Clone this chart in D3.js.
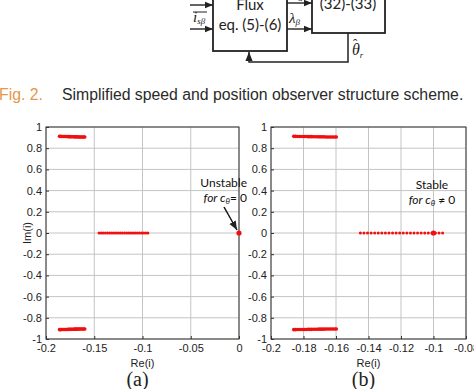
<!DOCTYPE html>
<html lang="en">
<head>
<meta charset="UTF-8">
<title>Observer pole maps</title>
<script src="https://d3js.org/d3.v7.min.js"></script>
<style>
  body { margin: 0; background: #fff; }
</style>
</head>
<body>
<svg width="474" height="389"></svg>
<script>
// Pole locations
const upperRe = [-0.1860, -0.1849, -0.1838, -0.1827, -0.1816, -0.1805, -0.1794, -0.1783, -0.1772,
                 -0.1761, -0.1750, -0.1739, -0.1728, -0.1717, -0.1706, -0.1695, -0.1684, -0.1673,
                 -0.1662, -0.1651, -0.1640, -0.1629, -0.1618, -0.1607, -0.1598];
const upperIm = [0.912, 0.912, 0.911, 0.911, 0.911, 0.910, 0.910, 0.910, 0.909, 0.909, 0.909, 0.908,
                 0.908, 0.908, 0.907, 0.907, 0.907, 0.907, 0.906, 0.906, 0.906, 0.906, 0.905, 0.905, 0.905];
const lowerIm = [-0.912, -0.912, -0.911, -0.911, -0.911, -0.910, -0.910, -0.910, -0.909, -0.909, -0.909, -0.908,
                 -0.908, -0.908, -0.907, -0.907, -0.907, -0.907, -0.906, -0.906, -0.906, -0.906, -0.905, -0.905, -0.905];
const realRe = [-0.1450, -0.1428, -0.1406, -0.1384, -0.1362, -0.1340, -0.1318, -0.1296, -0.1274, -0.1252,
                -0.1230, -0.1208, -0.1186, -0.1164, -0.1142, -0.1120, -0.1098, -0.1076, -0.1054, -0.1032,
                -0.1010, -0.0988, -0.0966, -0.0944];
const poleA = { re: 0, im: 0 };      // unstable for c_theta = 0
const poleB = { re: -0.1, im: 0 };   // stable for c_theta != 0

const xTicksA = [-0.2, -0.15, -0.1, -0.05, 0];
const xTicksB = [-0.2, -0.18, -0.16, -0.14, -0.12, -0.1, -0.08];
const yTicks = [-1, -0.8, -0.6, -0.4, -0.2, 0, 0.2, 0.4, 0.6, 0.8, 1];

const svg = d3.select("svg");

// ---------- block diagram (cropped at top) ----------
const dg = svg.append("g");
svg.append("defs").append("marker")
    .attr("id", "ah")
    .attr("viewBox", "0 0 10 10")
    .attr("refX", 10).attr("refY", 5)
    .attr("markerWidth", 6).attr("markerHeight", 6)
    .attr("orient", "auto-start-reverse")
  .append("path")
    .attr("d", "M0,1 L10,5 L0,9 Z")
    .attr("fill", "#222");

dg.append("rect").attr("x", 213).attr("y", -10).attr("width", 74).attr("height", 61)
    .attr("fill", "none").attr("stroke", "#222").attr("stroke-width", 1.8);
dg.append("rect").attr("x", 312).attr("y", -10).attr("width", 73).attr("height", 43)
    .attr("fill", "none").attr("stroke", "#222").attr("stroke-width", 1.8);

const arrows = [
  [190, 5, 213, 5], [190, 29, 213, 29],
  [287, 3, 312, 3], [287, 29, 312, 29]
];
arrows.forEach(a => {
  dg.append("line").attr("x1", a[0]).attr("y1", a[1]).attr("x2", a[2]).attr("y2", a[3])
    .attr("stroke", "#222").attr("stroke-width", 1.4).attr("marker-end", "url(#ah)");
});
dg.append("path").attr("d", "M348,33 V62 H249 V52")
    .attr("fill", "none").attr("stroke", "#222").attr("stroke-width", 1.5)
    .attr("marker-end", "url(#ah)");

dg.append("text").attr("x", 250).attr("y", 10).attr("text-anchor", "middle")
    .attr("font-family", "Lato").attr("font-size", 15).attr("fill", "#222").text("Flux");
dg.append("text").attr("x", 250).attr("y", 30).attr("text-anchor", "middle")
    .attr("font-family", "Lato").attr("font-size", 15).attr("fill", "#222").text("eq. (5)-(6)");
dg.append("text").attr("x", 348).attr("y", 9).attr("text-anchor", "middle")
    .attr("font-family", "Lato").attr("font-size", 15).attr("fill", "#222").text("(32)-(33)");

// math labels
const serif = "Liberation Serif";
dg.append("line").attr("x1", 193).attr("x2", 207).attr("y1", 12).attr("y2", 12)
    .attr("stroke", "#222").attr("stroke-width", 1);
const isb = dg.append("text").attr("x", 193).attr("y", 22)
    .attr("font-family", serif).attr("font-style", "italic").attr("font-size", 15).attr("fill", "#222");
isb.append("tspan").text("i");
isb.append("tspan").attr("font-size", 9).attr("dy", 2).text("sβ");

const lam = dg.append("text").attr("x", 289).attr("y", 23)
    .attr("font-family", serif).attr("font-style", "italic").attr("font-size", 15).attr("fill", "#222");
lam.append("tspan").text("λ");
lam.append("tspan").attr("font-size", 9).attr("dy", 2).text("β");
dg.append("text").attr("x", 298).attr("y", 1)
    .attr("font-family", serif).attr("font-style", "italic").attr("font-size", 9).attr("fill", "#222").text("α");

const th = dg.append("text").attr("x", 352).attr("y", 55)
    .attr("font-family", serif).attr("font-style", "italic").attr("font-size", 16).attr("fill", "#222");
th.append("tspan").text("θ");
th.append("tspan").attr("font-size", 9).attr("dy", 3).text("r");
dg.append("text").attr("x", 353).attr("y", 48)
    .attr("font-family", serif).attr("font-size", 13).attr("fill", "#222").text("ˆ");

// ---------- caption ----------
const cap = svg.append("text").attr("x", -1).attr("y", 100)
    .attr("font-family", "Liberation Sans").attr("font-size", 15.8);
cap.append("tspan").attr("fill", "#e8964a").text("Fig. 2.");
cap.append("tspan").attr("x", 62).attr("fill", "#2a2a2a")
    .text("Simplified speed and position observer structure scheme.");

// ---------- pole maps ----------
const plotTop = 127, plotBottom = 339;
const y = d3.scaleLinear().domain([-1, 1]).range([plotBottom, plotTop]);

function panel(left, right, xDomain, xTicks, extraPole, letter, yLabel) {
  const x = d3.scaleLinear().domain(xDomain).range([left, right]);
  const g = svg.append("g");

  // grid
  g.selectAll(".gx").data(xTicks).enter().append("line")
      .attr("x1", d => x(d)).attr("x2", d => x(d)).attr("y1", plotTop).attr("y2", plotBottom)
      .attr("stroke", "#c4c4c4").attr("stroke-width", 1);
  g.selectAll(".gy").data(yTicks).enter().append("line")
      .attr("x1", left).attr("x2", right).attr("y1", d => y(d)).attr("y2", d => y(d))
      .attr("stroke", "#c4c4c4").attr("stroke-width", 1);

  // axes
  const ax = g.append("g").attr("transform", `translate(0,${plotBottom})`)
      .call(d3.axisBottom(x).tickValues(xTicks).tickFormat(d => String(d))
        .tickSizeInner(-3).tickSizeOuter(0).tickPadding(5));
  const ay = g.append("g").attr("transform", `translate(${left},0)`)
      .call(d3.axisLeft(y).tickValues(yTicks).tickFormat(d => String(d))
        .tickSizeInner(-3).tickSizeOuter(0).tickPadding(4));
  [ax, ay].forEach(a => {
    a.select(".domain").remove();
    a.selectAll("line").attr("stroke", "#333");
    a.selectAll("text").attr("font-family", "Liberation Sans").attr("font-size", 11).attr("fill", "#222");
  });

  g.append("rect").attr("x", left).attr("y", plotTop).attr("width", right - left).attr("height", plotBottom - plotTop)
      .attr("fill", "none").attr("stroke", "#333").attr("stroke-width", 1);

  // poles
  const dots = g.append("g").attr("fill", "#f01010");
  dots.selectAll(".u").data(upperRe).enter().append("circle")
      .attr("cx", d => x(d)).attr("cy", (d, i) => y(upperIm[i])).attr("r", 1.8);
  dots.selectAll(".l").data(upperRe).enter().append("circle")
      .attr("cx", d => x(d)).attr("cy", (d, i) => y(lowerIm[i])).attr("r", 1.8);
  dots.selectAll(".r").data(realRe).enter().append("circle")
      .attr("cx", d => x(d)).attr("cy", y(0)).attr("r", 1.5);
  dots.append("circle").attr("cx", x(extraPole.re)).attr("cy", y(extraPole.im)).attr("r", 2.6);

  // labels
  g.append("text").attr("x", (left + right) / 2).attr("y", 367).attr("text-anchor", "middle")
      .attr("font-family", "Liberation Sans").attr("font-size", 11).attr("fill", "#222").text("Re(i)");
  if (yLabel) {
    g.append("text").attr("transform", `translate(31,${y(0)}) rotate(-90)`).attr("text-anchor", "middle")
        .attr("font-family", "Liberation Sans").attr("font-size", 11).attr("fill", "#222").text("Im(i)");
  }
  g.append("text").attr("x", (left + right) / 2 - 5).attr("y", 386).attr("text-anchor", "middle")
      .attr("font-family", serif).attr("font-size", 20).attr("fill", "#222").text(letter);
  return x;
}

const xA = panel(46, 239, [-0.2, 0], xTicksA, poleA, "(a)", true);
const xB = panel(271, 466, [-0.2, -0.08], xTicksB, poleB, "(b)", false);

// annotations
const ann = svg.append("g").attr("font-family", "Lato").attr("font-size", 12).attr("fill", "#111");
ann.append("text").attr("x", 247).attr("y", 187).attr("text-anchor", "end").text("Unstable");
const tA = ann.append("text").attr("x", 247).attr("y", 202).attr("text-anchor", "end");
tA.append("tspan").attr("font-style", "italic").text("for c");
tA.append("tspan").attr("font-style", "italic").attr("font-size", 8).attr("dy", 2).text("θ");
tA.append("tspan").attr("dy", -2).text("= 0");
ann.append("line").attr("x1", 224).attr("y1", 207).attr("x2", xA(poleA.re) - 2).attr("y2", y(poleA.im) - 3)
    .attr("stroke", "#111").attr("stroke-width", 1.5).attr("marker-end", "url(#ah)");

ann.append("text").attr("x", 432).attr("y", 189).attr("text-anchor", "middle").text("Stable");
const tB = ann.append("text").attr("x", 432).attr("y", 204).attr("text-anchor", "middle");
tB.append("tspan").attr("font-style", "italic").text("for c");
tB.append("tspan").attr("font-style", "italic").attr("font-size", 8).attr("dy", 2).text("θ");
tB.append("tspan").attr("dy", -2).text(" ≠ 0");
</script>
</body>
</html>
